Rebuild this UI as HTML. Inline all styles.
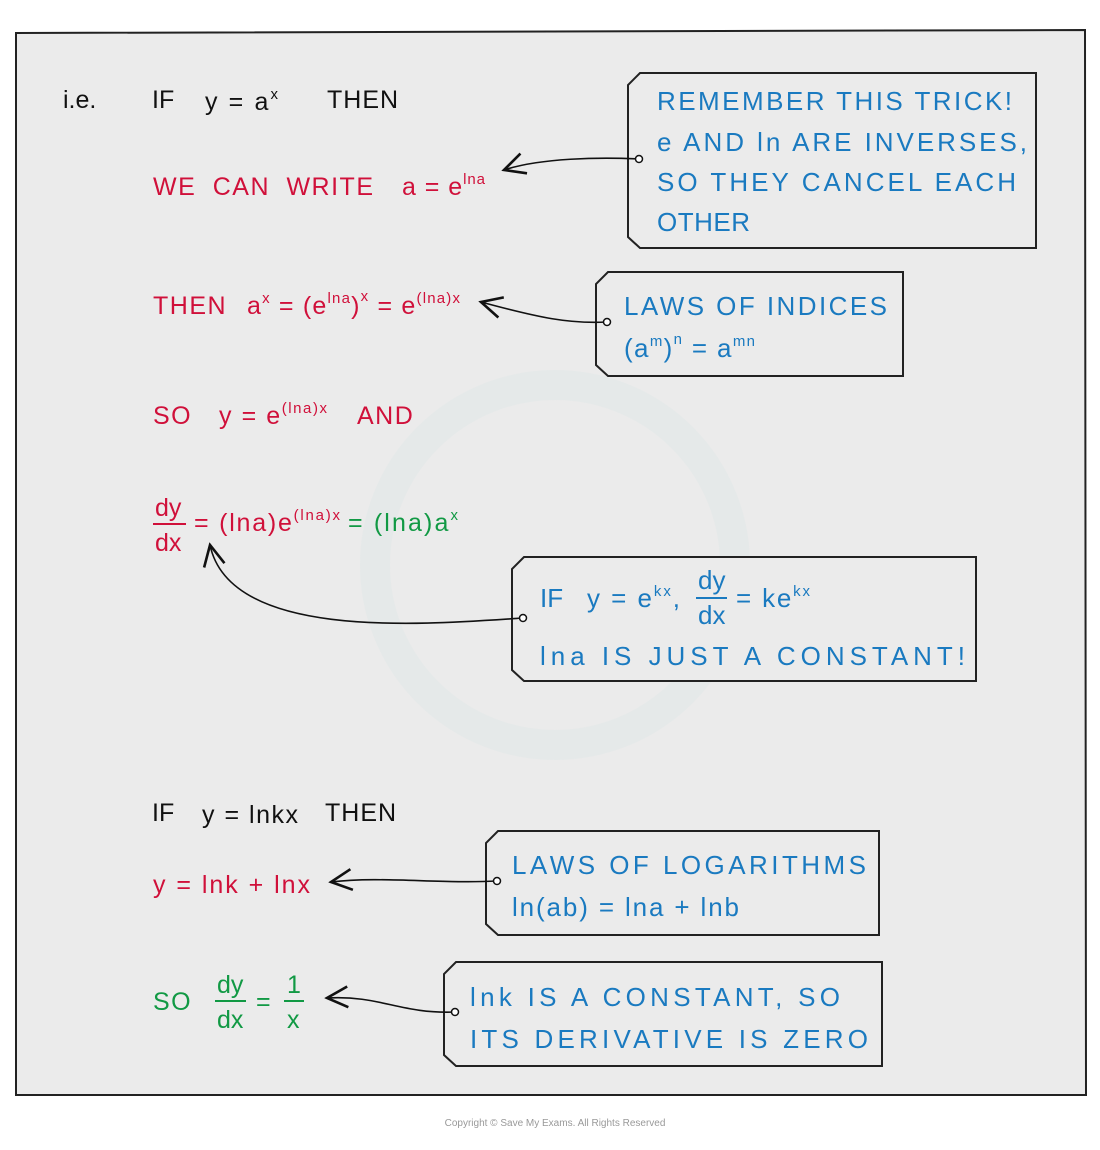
<!DOCTYPE html>
<html><head><meta charset="utf-8"><style>
html,body{margin:0;padding:0;background:#fff;}
svg{display:block;}
text{font-family:"Liberation Sans",sans-serif;}
</style></head><body>
<svg width="1100" height="1150" viewBox="0 0 1100 1150" xmlns="http://www.w3.org/2000/svg">
<defs>
<marker id="ar" viewBox="0 0 20 20" refX="2" refY="10" markerWidth="26" markerHeight="26" markerUnits="userSpaceOnUse" orient="auto">
<path d="M18,2 L2,10 L18,18" fill="none" stroke="#111" stroke-width="2"/>
</marker>
</defs>
<polygon points="16,33 1085,30 1086,1095 16,1095" fill="#ebebeb" stroke="#222" stroke-width="2"/>
<circle cx="555" cy="565" r="180" fill="none" stroke="#e3e8e8" stroke-width="30" opacity="0.8"/>

<g fill="#ebebeb" stroke="#222" stroke-width="2">
<polygon points="640,73 1036,73 1036,248 640,248 628,237 628,85"/>
<polygon points="608,272 903,272 903,376 608,376 596,365 596,284"/>
<polygon points="524,557 976,557 976,681 524,681 512,670 512,569"/>
<polygon points="498,831 879,831 879,935 498,935 486,924 486,843"/>
<polygon points="456,962 882,962 882,1066 456,1066 444,1055 444,974"/>
</g>

<g fill="none" stroke="#111" stroke-width="1.6">
<path d="M504,170 C540,158 600,157 639,159" marker-start="url(#ar)"/>
<path d="M481,302 C540,318 570,324 607,322" marker-start="url(#ar)"/>
<path d="M210,545 C230,640 420,625 523,618" marker-start="url(#ar)"/>
<path d="M331,882 C380,876 440,884 497,881" marker-start="url(#ar)"/>
<path d="M327,998 C380,995 400,1014 455,1012" marker-start="url(#ar)"/>
</g>
<g fill="#fff" stroke="#111" stroke-width="1.5">
<circle cx="639" cy="159" r="3.5"/><circle cx="607" cy="322" r="3.5"/><circle cx="523" cy="618" r="3.5"/><circle cx="497" cy="881" r="3.5"/><circle cx="455" cy="1012" r="3.5"/>
</g>

<g font-size="25" fill="#111">
<text x="63" y="108">i.e.</text>
<text x="152" y="108">IF</text>
<text x="205" y="110" textLength="73" lengthAdjust="spacing">y = a<tspan font-size="15" dy="-11">x</tspan></text>
<text x="327" y="108" letter-spacing="1">THEN</text>
<text x="152" y="821">IF</text>
<text x="202" y="823" textLength="96" lengthAdjust="spacing">y = lnkx</text>
<text x="325" y="821" letter-spacing="1">THEN</text>
</g>

<g font-size="25" fill="#d0103a">
<text x="153" y="195" letter-spacing="1.5" word-spacing="8">WE CAN WRITE</text>
<text x="402" y="195" textLength="83" lengthAdjust="spacing">a = e<tspan font-size="15" dy="-11">lna</tspan></text>
<text x="153" y="314" letter-spacing="1.5">THEN</text>
<text x="247" y="314" textLength="213" lengthAdjust="spacing">a<tspan font-size="15" dy="-11">x</tspan><tspan dy="11"> = (e</tspan><tspan font-size="15" dy="-11">lna</tspan><tspan dy="11">)</tspan><tspan font-size="15" dy="-13">x</tspan><tspan dy="13"> = e</tspan><tspan font-size="15" dy="-11">(lna)x</tspan></text>
<text x="153" y="424" letter-spacing="1.5">SO</text>
<text x="219" y="424" textLength="108" lengthAdjust="spacing">y = e<tspan font-size="15" dy="-11">(lna)x</tspan></text>
<text x="357" y="424" letter-spacing="1.5">AND</text>
<text x="155" y="516">dy</text>
<line x1="153" y1="524" x2="186" y2="524" stroke="#d0103a" stroke-width="2"/>
<text x="155" y="551">dx</text>
<text x="194" y="531" textLength="146" lengthAdjust="spacing">= (lna)e<tspan font-size="15" dy="-11">(lna)x</tspan></text>
<text x="153" y="893" textLength="157" lengthAdjust="spacing">y = lnk + lnx</text>
</g>
<g font-size="25" fill="#119944">
<text x="348" y="531" textLength="110" lengthAdjust="spacing">= (lna)a<tspan font-size="15" dy="-11">x</tspan></text>
<text x="153" y="1010" letter-spacing="1.5">SO</text>
<text x="217" y="993">dy</text>
<line x1="215" y1="1001" x2="246" y2="1001" stroke="#119944" stroke-width="2"/>
<text x="217" y="1028">dx</text>
<text x="256" y="1010">=</text>
<text x="287" y="993">1</text>
<line x1="284" y1="1001" x2="304" y2="1001" stroke="#119944" stroke-width="2"/>
<text x="287" y="1028">x</text>
</g>

<g font-size="26" fill="#1a7ac0">
<text x="657" y="110" textLength="355" lengthAdjust="spacing">REMEMBER  THIS  TRICK!</text>
<text x="657" y="151" textLength="370" lengthAdjust="spacing">e  AND  ln  ARE  INVERSES,</text>
<text x="657" y="191" textLength="359" lengthAdjust="spacing">SO  THEY  CANCEL  EACH</text>
<text x="657" y="231" textLength="93" lengthAdjust="spacing">OTHER</text>
<text x="624" y="315" textLength="263" lengthAdjust="spacing">LAWS  OF  INDICES</text>
<text x="624" y="357" textLength="131" lengthAdjust="spacing">(a<tspan font-size="15" dy="-11">m</tspan><tspan dy="11">)</tspan><tspan font-size="15" dy="-13">n</tspan><tspan dy="13"> = a</tspan><tspan font-size="15" dy="-11">mn</tspan></text>
<text x="540" y="607">IF</text>
<text x="587" y="607" textLength="93" lengthAdjust="spacing">y = e<tspan font-size="15" dy="-11">kx</tspan><tspan dy="11">,</tspan></text>
<text x="698" y="589">dy</text>
<line x1="696" y1="598" x2="727" y2="598" stroke="#1a7ac0" stroke-width="2"/>
<text x="698" y="624">dx</text>
<text x="736" y="607" textLength="74" lengthAdjust="spacing">= ke<tspan font-size="15" dy="-11">kx</tspan></text>
<text x="540" y="665" textLength="425" lengthAdjust="spacing">lna  IS  JUST  A  CONSTANT!</text>
<text x="512" y="874" textLength="354" lengthAdjust="spacing">LAWS  OF  LOGARITHMS</text>
<text x="512" y="916" textLength="227" lengthAdjust="spacing">ln(ab) = lna + lnb</text>
<text x="470" y="1006" textLength="370" lengthAdjust="spacing">lnk  IS  A  CONSTANT,  SO</text>
<text x="470" y="1048" textLength="398" lengthAdjust="spacing">ITS  DERIVATIVE  IS  ZERO</text>
</g>

<text x="555" y="1126" font-size="10" fill="#999" text-anchor="middle">Copyright © Save My Exams. All Rights Reserved</text>
</svg>
</body></html>
